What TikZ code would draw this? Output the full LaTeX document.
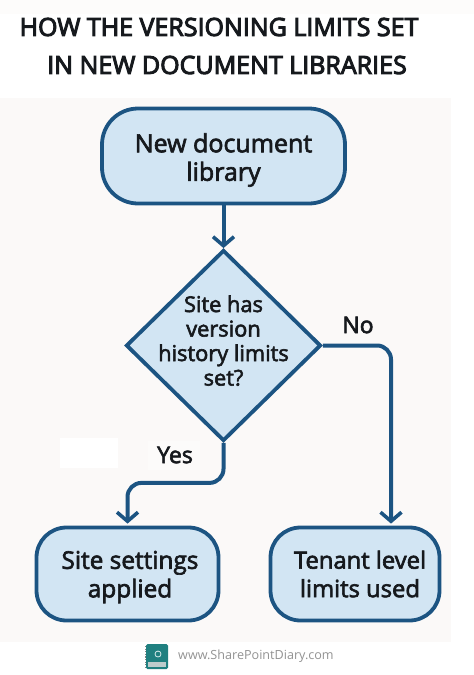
\documentclass[tikz,border=0pt]{standalone}
\usepackage{fontspec}
\setmainfont{Open Sans}
\newfontfamily\medf{Open Sans}[FakeBold=2.6]
\newfontfamily\titf{Open Sans}[FakeBold=4]
\usetikzlibrary{shapes.geometric,arrows.meta,calc}
\definecolor{edge}{HTML}{1C5482}
\definecolor{fillb}{HTML}{D2E5F3}
\definecolor{paper}{HTML}{FBF9F8}
\definecolor{ink}{HTML}{16191D}
\newcommand{\lift}[1]{\rule{0pt}{#1pt}}
\newcommand{\nar}[1]{\makebox[0pt]{#1}}
\tikzset{
 x=1pt,y=-1pt,
 boxnode/.style={draw=edge,fill=fillb,line width=3.8pt,rounded corners=#1,align=center,text=ink,inner sep=0pt,font=\medf\fontsize{25}{28.5}\selectfont},
 decnode/.style={draw=edge,fill=fillb,line width=3.8pt,diamond,shape aspect=1,inner sep=0pt,align=center,text=ink,minimum width=195pt,minimum height=191pt,font=\medf\fontsize{21.8}{24.5}\selectfont},
 conn/.style={draw=edge,line width=4pt,rounded corners=14pt,-{Straight Barb[length=9pt,width=21pt,line width=3.6pt]}},
 lab/.style={text=ink,inner sep=0pt,font=\medf\fontsize{23}{27}\selectfont},
 titlenode/.style={text=ink,inner sep=0pt,font=\titf\fontsize{25}{28}\selectfont},
}
\begin{document}
\begin{tikzpicture}
\useasboundingbox (0,0) rectangle (474,675);
\fill[white] (0,0) rectangle (474,675);
\fill[paper] (0,98) rectangle (451,642);
\fill[paper!50!white] (0,0) rectangle (474,14);
\fill[white] (60,438) rectangle (118,468);
\fill[paper!70!white] (148,441) rectangle (200,470);
% title
\node[titlenode] (t1) at (219,27) {HOW THE VERSIONING LIMITS SET};
\node[titlenode] (t2) at (227,65) {IN NEW DOCUMENT LIBRARIES};
% nodes
\node[boxnode=36pt,minimum width=243pt,minimum height=95pt] (start) at (223.5,156) {\lift{27}New document\\library};
\node[decnode] (dec) at (223.5,345.5) {\nar{Site has}\\\nar{version}\\\nar{history limits}\\\nar{set?}\rule[-10pt]{0pt}{10pt}};
\node[boxnode=30pt,minimum width=182pt,minimum height=93pt] (site) at (127.5,574) {\lift{24}\hspace*{5pt}\fontsize{24.4}{28.5}\selectfont Site settings\\\hspace*{5pt}\fontsize{24.4}{28.5}\selectfont applied};
\node[boxnode=30pt,minimum width=169pt,minimum height=93pt] (tenant) at (355,574) {\hspace*{10pt}\fontsize{23.8}{28.5}\selectfont Tenant level\\\hspace*{10pt}\fontsize{23.8}{28.5}\selectfont limits used};
% connectors
\draw[conn] (start.south) -- (dec.north);
\draw[conn] (dec.south) -- ++(0,40) -| ($(site.north)+(0,-2)$);
\draw[conn] (dec.east) -| ($(tenant.north)+(36,-2)$);
% labels
\node[lab] (no) at (358,325) {No};
\node[lab] (yes) at (175,455) {Yes};
% logo
\fill[rounded corners=1.5pt,fill=teal!75!gray] (146,644) rectangle (168,669);
\fill[teal!30!gray!40] (148,662) rectangle (166,667);
\draw[gray,line width=0.8pt,dash pattern=on 1.2pt off 1.4pt] (145,646) -- (145,667);
\draw[white!85!teal,line width=0.8pt] (158,654) circle (3pt);
\node[text=gray!85,inner sep=0pt,anchor=west,font=\rmfamily\fontsize{12.6}{14}\selectfont] (siteurl) at (178,656.5) {www.SharePointDiary.com};
\end{tikzpicture}
\end{document}
